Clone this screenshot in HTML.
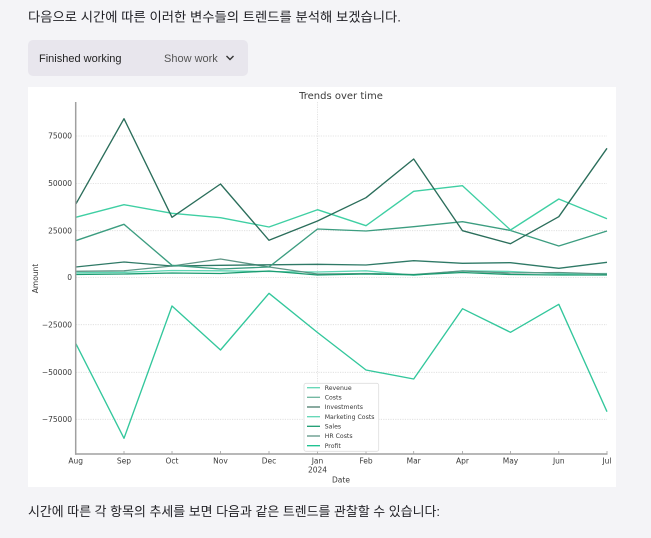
<!DOCTYPE html>
<html><head><meta charset="utf-8"><style>
html,body{margin:0;padding:0;background:#f4f4f7;width:651px;height:538px;overflow:hidden}
svg{display:block}
</style></head><body>
<svg width="651" height="538" viewBox="0 0 651 538" xmlns="http://www.w3.org/2000/svg">
<rect x="0" y="0" width="651" height="538" fill="#f4f4f7"/>
<text x="28" y="21.5" font-family="'Liberation Sans','Noto Sans CJK KR',sans-serif" font-size="13" fill="#1f1f24" textLength="373" lengthAdjust="spacingAndGlyphs">다음으로 시간에 따른 이러한 변수들의 트렌드를 분석해 보겠습니다.</text>
<rect x="28" y="40" width="220" height="36" rx="5" fill="#e8e6ed"/>
<text x="39" y="62" font-family="'Liberation Sans',sans-serif" font-size="11" fill="#222">Finished working</text>
<text x="164" y="62" font-family="'Liberation Sans',sans-serif" font-size="11" fill="#555">Show work</text>
<path d="M226.5 56 L230 59.5 L233.5 56" fill="none" stroke="#333" stroke-width="1.4"/>
<rect x="28" y="87" width="588" height="400" fill="#ffffff"/>
<g stroke="#dcdcdc" stroke-width="0.8" stroke-dasharray="1.2,1.2">
<line x1="76" y1="136" x2="607" y2="136"/>
<line x1="76" y1="183.5" x2="607" y2="183.5"/>
<line x1="76" y1="230.7" x2="607" y2="230.7"/>
<line x1="76" y1="277.5" x2="607" y2="277.5"/>
<line x1="76" y1="324.7" x2="607" y2="324.7"/>
<line x1="76" y1="372.3" x2="607" y2="372.3"/>
<line x1="76" y1="419.3" x2="607" y2="419.3"/>
<line x1="317.5" y1="102" x2="317.5" y2="454"/>
</g>
<g fill="none" stroke-width="1.35" stroke-linejoin="round">
<polyline stroke="#5fd6b4" points="75.7,272.8 124,272.3 172,270.5 220.5,270.8 269,271.5 317.5,272 366,270.8 413.7,275.2 462.5,270.8 510.5,271.5 558.8,273.8 607,273.5"/>
<polyline stroke="#5e9585" points="75.7,271.3 124,270.8 172,266 220.5,259 269,267 317.5,274 366,273.5 413.7,274.5 462.5,271 510.5,273 558.8,272.5 607,274"/>
<polyline stroke="#1a9b70" points="75.7,274.5 124,274 172,273 220.5,273.5 269,271 317.5,275 366,274 413.7,274.8 462.5,272.5 510.5,274.5 558.8,275 607,275"/>
<polyline stroke="#2f7966" points="75.7,267 124,262 172,266 220.5,265.3 269,264.8 317.5,264.3 366,265 413.7,260.7 462.5,263.3 510.5,262.7 558.8,268.3 607,262.3"/>
<polyline stroke="#3c9d80" points="75.7,240.7 124,224.3 172,265.3 220.5,269 269,267 317.5,229 366,231 413.7,226.7 462.5,221.7 510.5,230.5 558.8,246 607,231"/>
<polyline stroke="#3fcfa3" points="75.7,217.3 124,204.7 172,213.3 220.5,217.7 269,227 317.5,209.7 366,225.7 413.7,191.3 462.5,185.7 510.5,230 558.8,199 607,218.7"/>
<polyline stroke="#2b6e5b" points="75.7,204.3 124,118.7 172,217.3 220.5,184 269,240.3 317.5,221 366,197.7 413.7,159 462.5,230.7 510.5,243.7 558.8,216.7 607,148.3"/>
<polyline stroke="#33c79c" points="75.7,343.3 124,438.3 172,306 220.5,350 269,293.3 317.5,332.5 366,370 413.7,379 462.5,308.7 510.5,332.3 558.8,304.3 607,411.7"/>
</g>
<g stroke="#a0a0a0" stroke-width="1.5">
<line x1="75.7" y1="102" x2="75.7" y2="454.7"/>
<line x1="75" y1="454" x2="607.5" y2="454"/>
</g>
<g stroke="#a0a0a0" stroke-width="0.8">
<line x1="124" y1="454" x2="124" y2="451"/><line x1="172" y1="454" x2="172" y2="451"/><line x1="220.5" y1="454" x2="220.5" y2="451"/><line x1="269" y1="454" x2="269" y2="451"/><line x1="317.5" y1="454" x2="317.5" y2="451"/><line x1="366" y1="454" x2="366" y2="451"/><line x1="413.7" y1="454" x2="413.7" y2="451"/><line x1="462.5" y1="454" x2="462.5" y2="451"/><line x1="510.5" y1="454" x2="510.5" y2="451"/><line x1="558.8" y1="454" x2="558.8" y2="451"/><line x1="607" y1="454" x2="607" y2="451"/>
</g>
<g font-family="'DejaVu Sans','Liberation Sans',sans-serif" font-size="7.5" fill="#3a3a3a">
<g text-anchor="end">
<text x="72" y="138.7">75000</text>
<text x="72" y="186.2">50000</text>
<text x="72" y="233.4">25000</text>
<text x="72" y="280.2">0</text>
<text x="72" y="327.4">−25000</text>
<text x="72" y="375">−50000</text>
<text x="72" y="422">−75000</text>
</g>
<g text-anchor="middle">
<text x="75.7" y="463.5">Aug</text>
<text x="124" y="463.5">Sep</text>
<text x="172" y="463.5">Oct</text>
<text x="220.5" y="463.5">Nov</text>
<text x="269" y="463.5">Dec</text>
<text x="317.5" y="463.5">Jan</text>
<text x="317.5" y="472.5">2024</text>
<text x="366" y="463.5">Feb</text>
<text x="413.7" y="463.5">Mar</text>
<text x="462.5" y="463.5">Apr</text>
<text x="510.5" y="463.5">May</text>
<text x="558.8" y="463.5">Jun</text>
<text x="607" y="463.5">Jul</text>
<text x="341" y="482.5">Date</text>
<text transform="translate(38,278.5) rotate(-90)">Amount</text>
</g>
<text x="341" y="99" text-anchor="middle" font-size="10">Trends over time</text>
</g>
<rect x="304" y="383.3" width="74.7" height="68" rx="2" fill="#ffffff" fill-opacity="0.9" stroke="#dddddd" stroke-width="0.8"/>
<g stroke-width="1.3">
<line x1="307" y1="387.7" x2="320" y2="387.7" stroke="#5fd6b4"/>
<line x1="307" y1="397.3" x2="320" y2="397.3" stroke="#6db59e"/>
<line x1="307" y1="407" x2="320" y2="407" stroke="#4a7d6d"/>
<line x1="307" y1="416.7" x2="320" y2="416.7" stroke="#5fd6b4"/>
<line x1="307" y1="426.3" x2="320" y2="426.3" stroke="#1a9b70"/>
<line x1="307" y1="436" x2="320" y2="436" stroke="#5e9585"/>
<line x1="307" y1="445.7" x2="320" y2="445.7" stroke="#14c08c"/>
</g>
<g font-family="'DejaVu Sans','Liberation Sans',sans-serif" font-size="6.2" fill="#3a3a3a">
<text x="324.7" y="389.9">Revenue</text>
<text x="324.7" y="399.5">Costs</text>
<text x="324.7" y="409.2">Investments</text>
<text x="324.7" y="418.9">Marketing Costs</text>
<text x="324.7" y="428.5">Sales</text>
<text x="324.7" y="438.2">HR Costs</text>
<text x="324.7" y="447.9">Profit</text>
</g>
<text x="28" y="516" font-family="'Liberation Sans','Noto Sans CJK KR',sans-serif" font-size="13" fill="#1f1f24" textLength="412" lengthAdjust="spacingAndGlyphs">시간에 따른 각 항목의 추세를 보면 다음과 같은 트렌드를 관찰할 수 있습니다:</text>
</svg>
</body></html>
